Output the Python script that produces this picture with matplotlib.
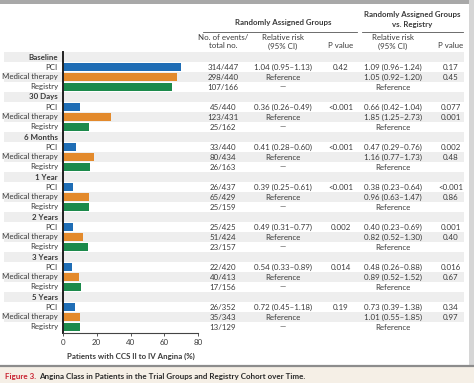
import matplotlib.pyplot as plt
import matplotlib.patches as mpatches

plt.rcParams['font.family'] = ['Lato', 'DejaVu Sans']

groups = ['Baseline', '30 Days', '6 Months', '1 Year', '2 Years', '3 Years', '5 Years']
arms = ['PCI', 'Medical therapy', 'Registry']

# percent of patients with CCS II-IV angina
pci_pct = [70.2, 10.2, 7.5, 5.9, 5.9, 5.2, 7.4]
mt_pct = [67.7, 28.5, 18.4, 15.2, 12.0, 9.7, 10.2]
reg_pct = [64.5, 15.4, 16.0, 15.7, 14.6, 10.9, 10.1]

pci_events = ['314/447', '45/440', '33/440', '26/437', '25/425', '22/420', '26/352']
mt_events = ['298/440', '123/431', '80/434', '65/429', '51/424', '40/413', '35/343']
reg_events = ['107/166', '25/162', '26/163', '25/159', '23/157', '17/156', '13/129']

rr_rand = ['1.04 (0.95\u20131.13)', '0.36 (0.26\u20130.49)', '0.41 (0.28\u20130.60)',
           '0.39 (0.25\u20130.61)', '0.49 (0.31\u20130.77)', '0.54 (0.33\u20130.89)',
           '0.72 (0.45\u20131.18)']
p_rand = ['0.42', '<0.001', '<0.001', '<0.001', '0.002', '0.014', '0.19']
rr_pci_reg = ['1.09 (0.96\u20131.24)', '0.66 (0.42\u20131.04)', '0.47 (0.29\u20130.76)',
              '0.38 (0.23\u20130.64)', '0.40 (0.23\u20130.69)', '0.48 (0.26\u20130.88)',
              '0.73 (0.39\u20131.38)']
p_pci_reg = ['0.17', '0.077', '0.002', '<0.001', '0.001', '0.016', '0.34']
rr_mt_reg = ['1.05 (0.92\u20131.20)', '1.85 (1.25\u20132.73)', '1.16 (0.77\u20131.73)',
             '0.96 (0.63\u20131.47)', '0.82 (0.52\u20131.30)', '0.89 (0.52\u20131.52)',
             '1.01 (0.55\u20131.85)']
p_mt_reg = ['0.45', '0.001', '0.48', '0.86', '0.40', '0.67', '0.97']

colors = ['#1f6db5', '#e38a2c', '#1c8a4b']
txt = '#3a3a3a'
fs = 5.7

fig = plt.figure(figsize=(4.74, 3.83), dpi=100)

# background axes in pixel coordinates
bg = fig.add_axes([0, 0, 1, 1])
bg.set_xlim(0, 474)
bg.set_ylim(383, 0)
bg.axis('off')

# frame decorations
bg.add_patch(mpatches.Rectangle((0, 0), 474, 4, color='#a8a8a8', lw=0))
bg.add_patch(mpatches.Rectangle((469, 0), 5, 366, color='#d6d6d6', lw=0))
bg.add_patch(mpatches.Rectangle((0, 366), 474, 17, color='#f5efe6', lw=0))
bg.plot([0, 474], [365.5, 365.5], color='#8c8c8c', lw=1.6)

row_h = 10
y0 = 57
n_rows = len(groups) * 4
for i in range(n_rows):
    y = y0 + i * row_h
    if i % 2 == 0:
        bg.add_patch(mpatches.Rectangle((4, y - row_h / 2), 460, row_h,
                                        color='#eeeeee', lw=0))

# column headers
bg.text(283, 23, 'Randomly Assigned Groups', ha='center', va='center',
        fontsize=fs, fontweight='bold', color=txt)
bg.text(412, 14, 'Randomly Assigned Groups', ha='center', va='center',
        fontsize=fs, fontweight='bold', color=txt)
bg.text(412, 25, 'vs. Registry', ha='center', va='center',
        fontsize=fs, fontweight='bold', color=txt)
bg.plot([203, 357], [31.5, 31.5], color='#555555', lw=0.6)
bg.plot([362, 463], [31.5, 31.5], color='#555555', lw=0.6)

cols = [223, 283, 341, 393, 451]
bg.text(cols[0], 38, 'No. of events/', ha='center', va='center', fontsize=fs, color=txt)
bg.text(cols[0], 46, 'total no.', ha='center', va='center', fontsize=fs, color=txt)
for c in (cols[1], cols[3]):
    bg.text(c, 38, 'Relative risk', ha='center', va='center', fontsize=fs, color=txt)
    bg.text(c, 46, '(95% CI)', ha='center', va='center', fontsize=fs, color=txt)
for c in (cols[2], cols[4]):
    bg.text(c, 45, 'P value', ha='center', va='center', fontsize=fs, color=txt)

# row labels and table values
for g, name in enumerate(groups):
    yh = y0 + g * 4 * row_h
    bg.text(58, yh, name, ha='right', va='center', fontsize=fs,
            fontweight='bold', color=txt)
    for a, arm in enumerate(arms):
        bg.text(58, yh + (a + 1) * row_h, arm, ha='right', va='center',
                fontsize=fs, color=txt)
    ev = [pci_events[g], mt_events[g], reg_events[g]]
    for a in range(3):
        bg.text(cols[0], yh + (a + 1) * row_h, ev[a], ha='center', va='center',
                fontsize=fs, color=txt)
    yp, ym, yr = yh + row_h, yh + 2 * row_h, yh + 3 * row_h
    bg.text(cols[1], yp, rr_rand[g], ha='center', va='center', fontsize=fs, color=txt)
    bg.text(cols[2], yp, p_rand[g], ha='center', va='center', fontsize=fs, color=txt)
    bg.text(cols[1], ym, 'Reference', ha='center', va='center', fontsize=fs, color=txt)
    bg.text(cols[1], yr, '\u2014', ha='center', va='center', fontsize=fs, color=txt)
    bg.text(cols[3], yp, rr_pci_reg[g], ha='center', va='center', fontsize=fs, color=txt)
    bg.text(cols[4], yp, p_pci_reg[g], ha='center', va='center', fontsize=fs, color=txt)
    bg.text(cols[3], ym, rr_mt_reg[g], ha='center', va='center', fontsize=fs, color=txt)
    bg.text(cols[4], ym, p_mt_reg[g], ha='center', va='center', fontsize=fs, color=txt)
    bg.text(cols[3], yr, 'Reference', ha='center', va='center', fontsize=fs, color=txt)

# caption
bg.text(5, 376, 'Figure 3.', ha='left', va='center', fontsize=5.8,
        fontweight='bold', color='#c8202f')
bg.text(39, 376, 'Angina Class in Patients in the Trial Groups and Registry Cohort over Time.',
        ha='left', va='center', fontsize=5.8, fontweight='bold', color='#2a2a2a')

# bar axes
top_px = y0 - row_h / 2
bot_px = y0 + (n_rows - 0.5) * row_h + 1
ax = fig.add_axes([63 / 474, 1 - bot_px / 383, 135 / 474, (bot_px - top_px) / 383])
ax.patch.set_alpha(0)
for g in range(len(groups)):
    base = g * 4
    vals = [pci_pct[g], mt_pct[g], reg_pct[g]]
    for a in range(3):
        ax.barh(base + a + 1, vals[a], height=0.72, color=colors[a], lw=0)
ax.set_xlim(0, 80)
ax.set_ylim(n_rows - 0.4, -0.5)
ax.set_yticks([])
ax.set_xticks([0, 20, 40, 60, 80])
ax.tick_params(axis='x', labelsize=fs, colors=txt, length=2.5, width=0.6, pad=2)
ax.spines['top'].set_visible(False)
ax.spines['right'].set_visible(False)
ax.spines['left'].set_linewidth(1.4)
ax.spines['left'].set_color('#222222')
ax.spines['bottom'].set_linewidth(0.8)
ax.spines['bottom'].set_color('#444444')
ax.set_xlabel('Patients with CCS II to IV Angina (%)', fontsize=fs,
              fontweight='bold', color=txt, labelpad=5)

fig.savefig('out.png', dpi=100)
